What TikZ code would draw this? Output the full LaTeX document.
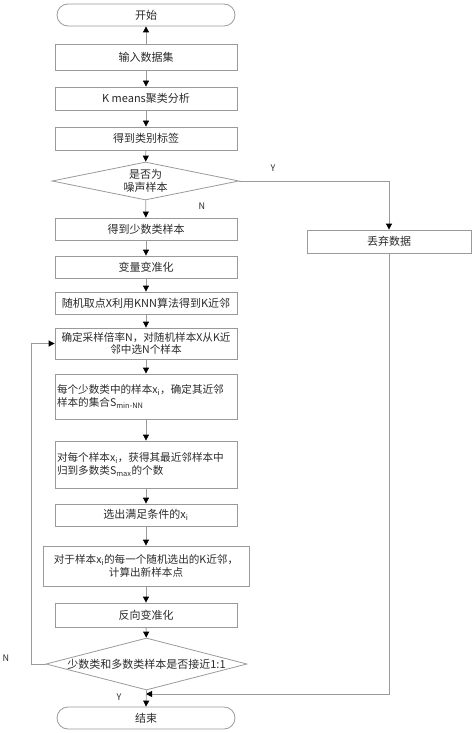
\documentclass[tikz,border=0pt]{standalone}
\usepackage{fontspec}
\setmainfont{Noto Sans CJK SC}
\usetikzlibrary{arrows.meta,shapes.geometric,shapes.misc}
\definecolor{linegray}{HTML}{9A9A9A}
\definecolor{txt}{HTML}{2A2A2A}
\tikzset{
  box/.style={draw=linegray, line width=0.8pt, rectangle, minimum width=182pt, minimum height=#1, inner sep=2pt, text=txt, font=\fontsize{11}{13}\selectfont, align=center},
  box/.default=22pt,
  term/.style={draw=linegray, line width=0.8pt, rounded rectangle, minimum width=182pt, minimum height=22pt, inner sep=2pt, text=txt, font=\fontsize{11}{13}\selectfont},
  dec/.style={draw=linegray, line width=0.8pt, diamond, inner sep=0pt},
  dectext/.style={text=txt, font=\fontsize{11}{13}\selectfont, align=center, inner sep=0pt},
  conn/.style={draw=linegray, line width=0.8pt},
  arr/.style={conn, -{Triangle[length=6pt,width=6pt,color=black]}},
  lbl/.style={text=txt, font=\fontsize{9}{10}\selectfont}
}
\begin{document}
\begin{tikzpicture}[x=1pt,y=-1pt]
\useasboundingbox (0,0) rectangle (474,733);
\node[term] (start) at (146,15) {开始};
\node[box=26pt] (input) at (146,57) {输入数据集};
\node[box=23pt] (kmeans) at (146,98.5) {K means聚类分析};
\node[box=23pt] (label) at (146,138.5) {得到类别标签};
\node[dec, minimum width=187pt, minimum height=38pt] (dec1) at (145.5,181) {};
\node[dectext] (dec1t) at (dec1.center) {是否为\\噪声样本};
\node[box] (minority) at (146,229) {得到少数类样本};
\node[box=23pt, minimum width=164pt] (discard) at (389,241.5) {丢弃数据};
\node[box] (std) at (146,267) {变量变准化};
\node[box] (rand) at (146,303) {随机取点X利用KNN算法得到K近邻};
\node[box=31pt, text width=178pt, align=center, font=\fontsize{10.6}{12.5}\selectfont] (rate) at (146,343.5) {确定采样倍率N，对随机样本X从K近\\邻中选N个样本};
\node[box=45pt, text width=178pt, align=left, font=\fontsize{10.6}{13.5}\selectfont] (each) at (146,396.5) {每个少数类中的样本x\textsubscript{i}，确定其近邻\\样本的集合S\textsubscript{min-NN}};
\node[box=47pt, text width=178pt, align=left, font=\fontsize{10.6}{13.5}\selectfont] (foreach) at (146,464.5) {对每个样本x\textsubscript{i}，获得其最近邻样本中\\归到多数类S\textsubscript{max}的个数};
\node[box] (select) at (146,515) {选出满足条件的x\textsubscript{i}};
\node[box=40pt, minimum width=206pt, align=center, font=\fontsize{10.6}{13.5}\selectfont] (forsample) at (146,566) {对于样本x\textsubscript{i}的每一个随机选出的K近邻，\\计算出新样本点};
\node[box=24pt] (inverse) at (146,615) {反向变准化};
\node[dec, minimum width=201pt, minimum height=52pt] (dec2) at (146.5,664) {};
\node[dectext] (dec2t) at (dec2.center) {少数类和多数类样本是否接近1:1};
\node[term] (end) at (146,718) {结束};
\coordinate (merge) at (146,694);
\draw[arr] (input) -- (start);
\draw[arr] (input) -- (kmeans);
\draw[arr] (kmeans) -- (label);
\draw[arr] (label) -- (dec1);
\draw[arr] (dec1) -- (minority);
\draw[arr] (dec1.east) -| (discard.north);
\draw[arr] (minority) -- (std);
\draw[arr] (std) -- (rand);
\draw[arr] (rand) -- (rate);
\draw[arr] (rate) -- (each);
\draw[arr] (each) -- (foreach);
\draw[arr] (foreach) -- (select);
\draw[arr] (select) -- (forsample);
\draw[arr] (forsample) -- (inverse);
\draw[arr] (inverse) -- (dec2);
\draw[arr] (dec2.west) -- (31,664) |- (rate.west);
\draw[arr] (discard.south) |- (merge);
\draw[arr] (dec2.south) -- (end.north);
\node[lbl] (ly1) at (273,168) {Y};
\node[lbl] (ln1) at (202,206) {N};
\node[lbl] (ln2) at (6,658) {N};
\node[lbl] (ly2) at (119,697) {Y};
\end{tikzpicture}
\end{document}
